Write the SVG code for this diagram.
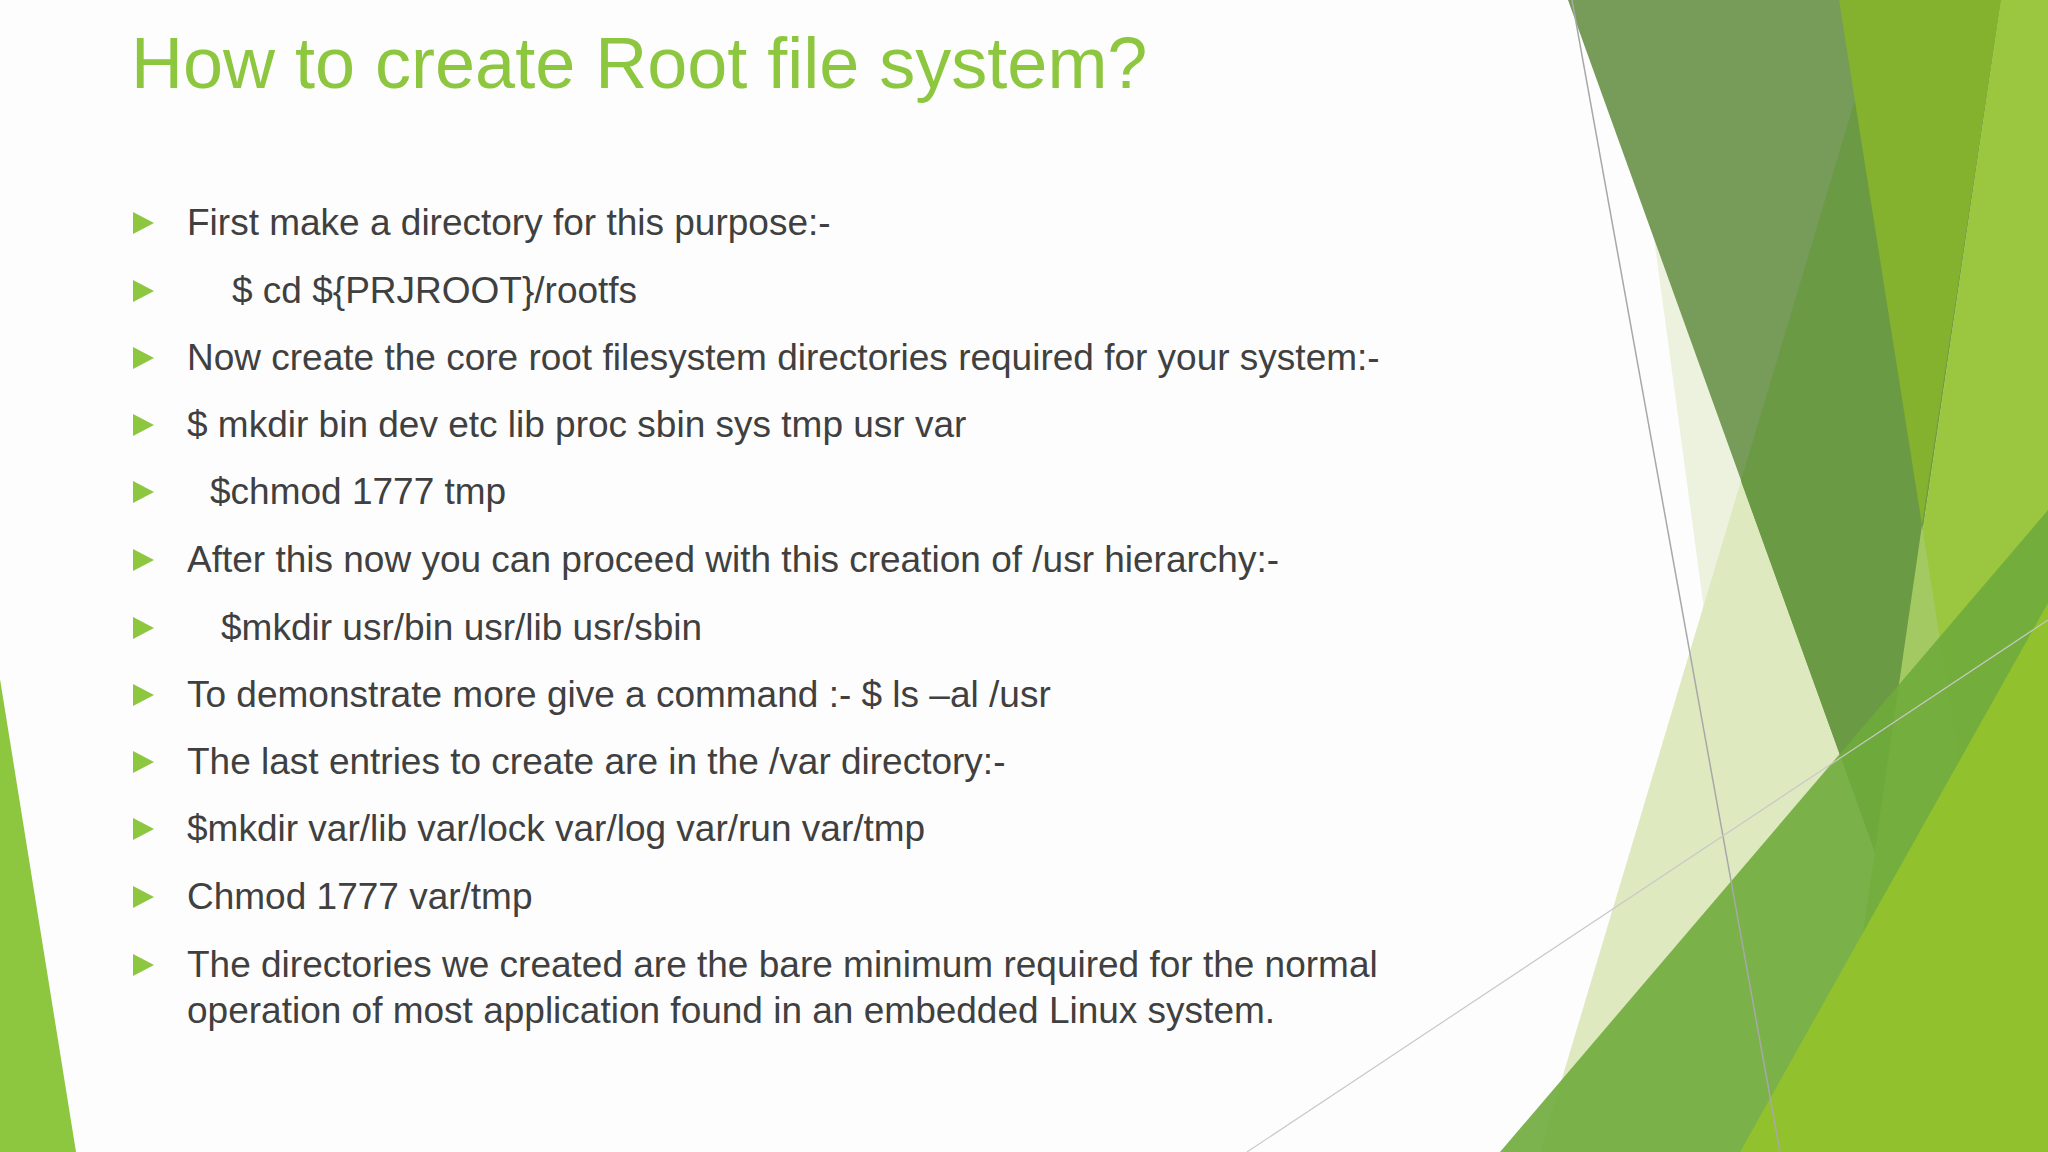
<svg xmlns="http://www.w3.org/2000/svg" width="2048" height="1152" viewBox="0 0 2048 1152">
<style>
.t{font-family:"Liberation Sans",Arial,sans-serif;font-size:37px;fill:#404040}
.b{fill:#8dc63f}
</style>
<defs><polygon id="bul" points="0,-11 21,0 0,11"/></defs>
<rect width="2048" height="1152" fill="#fdfdfd"/>
<g id="decor">
<polygon points="0,679 76,1152 0,1152" fill="#8dc63f"/>
<polygon points="1622,0 2048,0 2048,1152 1777,1152" fill="#edf2df"/>
<polygon points="1540,1152 1885,0 2048,0 2048,1152" fill="#dfe9c0"/>
<polygon points="1568,0 2001,0 1875,852" fill="#779b58"/>
<polygon points="1741,481 1885,0 2001,0 1875,852" fill="#6a9a43"/>
<polygon points="1839,0 2001,0 1922,525" fill="#84b22f"/>
<polygon points="2001,0 2048,0 2048,1152 1831,1152" fill="#9bc63f"/>
<polygon points="1922,525 1975,862 1863,933" fill="#a3ca62"/>
<polygon points="1500,1152 2048,510 2048,1152" fill="#6fab3c" opacity="0.9"/>
<polygon points="1740,1152 2048,603 2048,1152" fill="#92c12e"/>
<line x1="1572" y1="0" x2="1780" y2="1152" stroke="#a8a8a8" stroke-width="1.5"/>
<line x1="1247" y1="1152" x2="2048" y2="620" stroke="#c8c8c8" stroke-width="1.2"/>
</g>
<g id="title"><text x="131" y="88" font-family="'Liberation Sans',Arial,sans-serif" font-size="72" fill="#8dc63f">How to create Root file system?</text></g>
<g id="bullets">
<use href="#bul" x="133" y="223" class="b"/><text class="t" x="187" y="235">First make a directory for this purpose:-</text>
<use href="#bul" x="133" y="291" class="b"/><text class="t" x="232" y="303">$ cd ${PRJROOT}/rootfs</text>
<use href="#bul" x="133" y="358" class="b"/><text class="t" x="187" y="370">Now create the core root filesystem directories required for your system:-</text>
<use href="#bul" x="133" y="425" class="b"/><text class="t" x="187" y="437">$ mkdir bin dev etc lib proc sbin sys tmp usr var</text>
<use href="#bul" x="133" y="492" class="b"/><text class="t" x="210" y="504">$chmod 1777 tmp</text>
<use href="#bul" x="133" y="560" class="b"/><text class="t" x="187" y="572">After this now you can proceed with this creation of /usr hierarchy:-</text>
<use href="#bul" x="133" y="628" class="b"/><text class="t" x="221" y="640">$mkdir usr/bin usr/lib usr/sbin</text>
<use href="#bul" x="133" y="695" class="b"/><text class="t" x="187" y="707">To demonstrate more give a command :- $ ls –al /usr</text>
<use href="#bul" x="133" y="762" class="b"/><text class="t" x="187" y="774">The last entries to create are in the /var directory:-</text>
<use href="#bul" x="133" y="829" class="b"/><text class="t" x="187" y="841">$mkdir var/lib var/lock var/log var/run var/tmp</text>
<use href="#bul" x="133" y="897" class="b"/><text class="t" x="187" y="909">Chmod 1777 var/tmp</text>
<use href="#bul" x="133" y="965" class="b"/><text class="t" x="187" y="977">The directories we created are the bare minimum required for the normal</text>
<text class="t" x="187" y="1023">operation of most application found in an embedded Linux system.</text>
</g>
</svg>
